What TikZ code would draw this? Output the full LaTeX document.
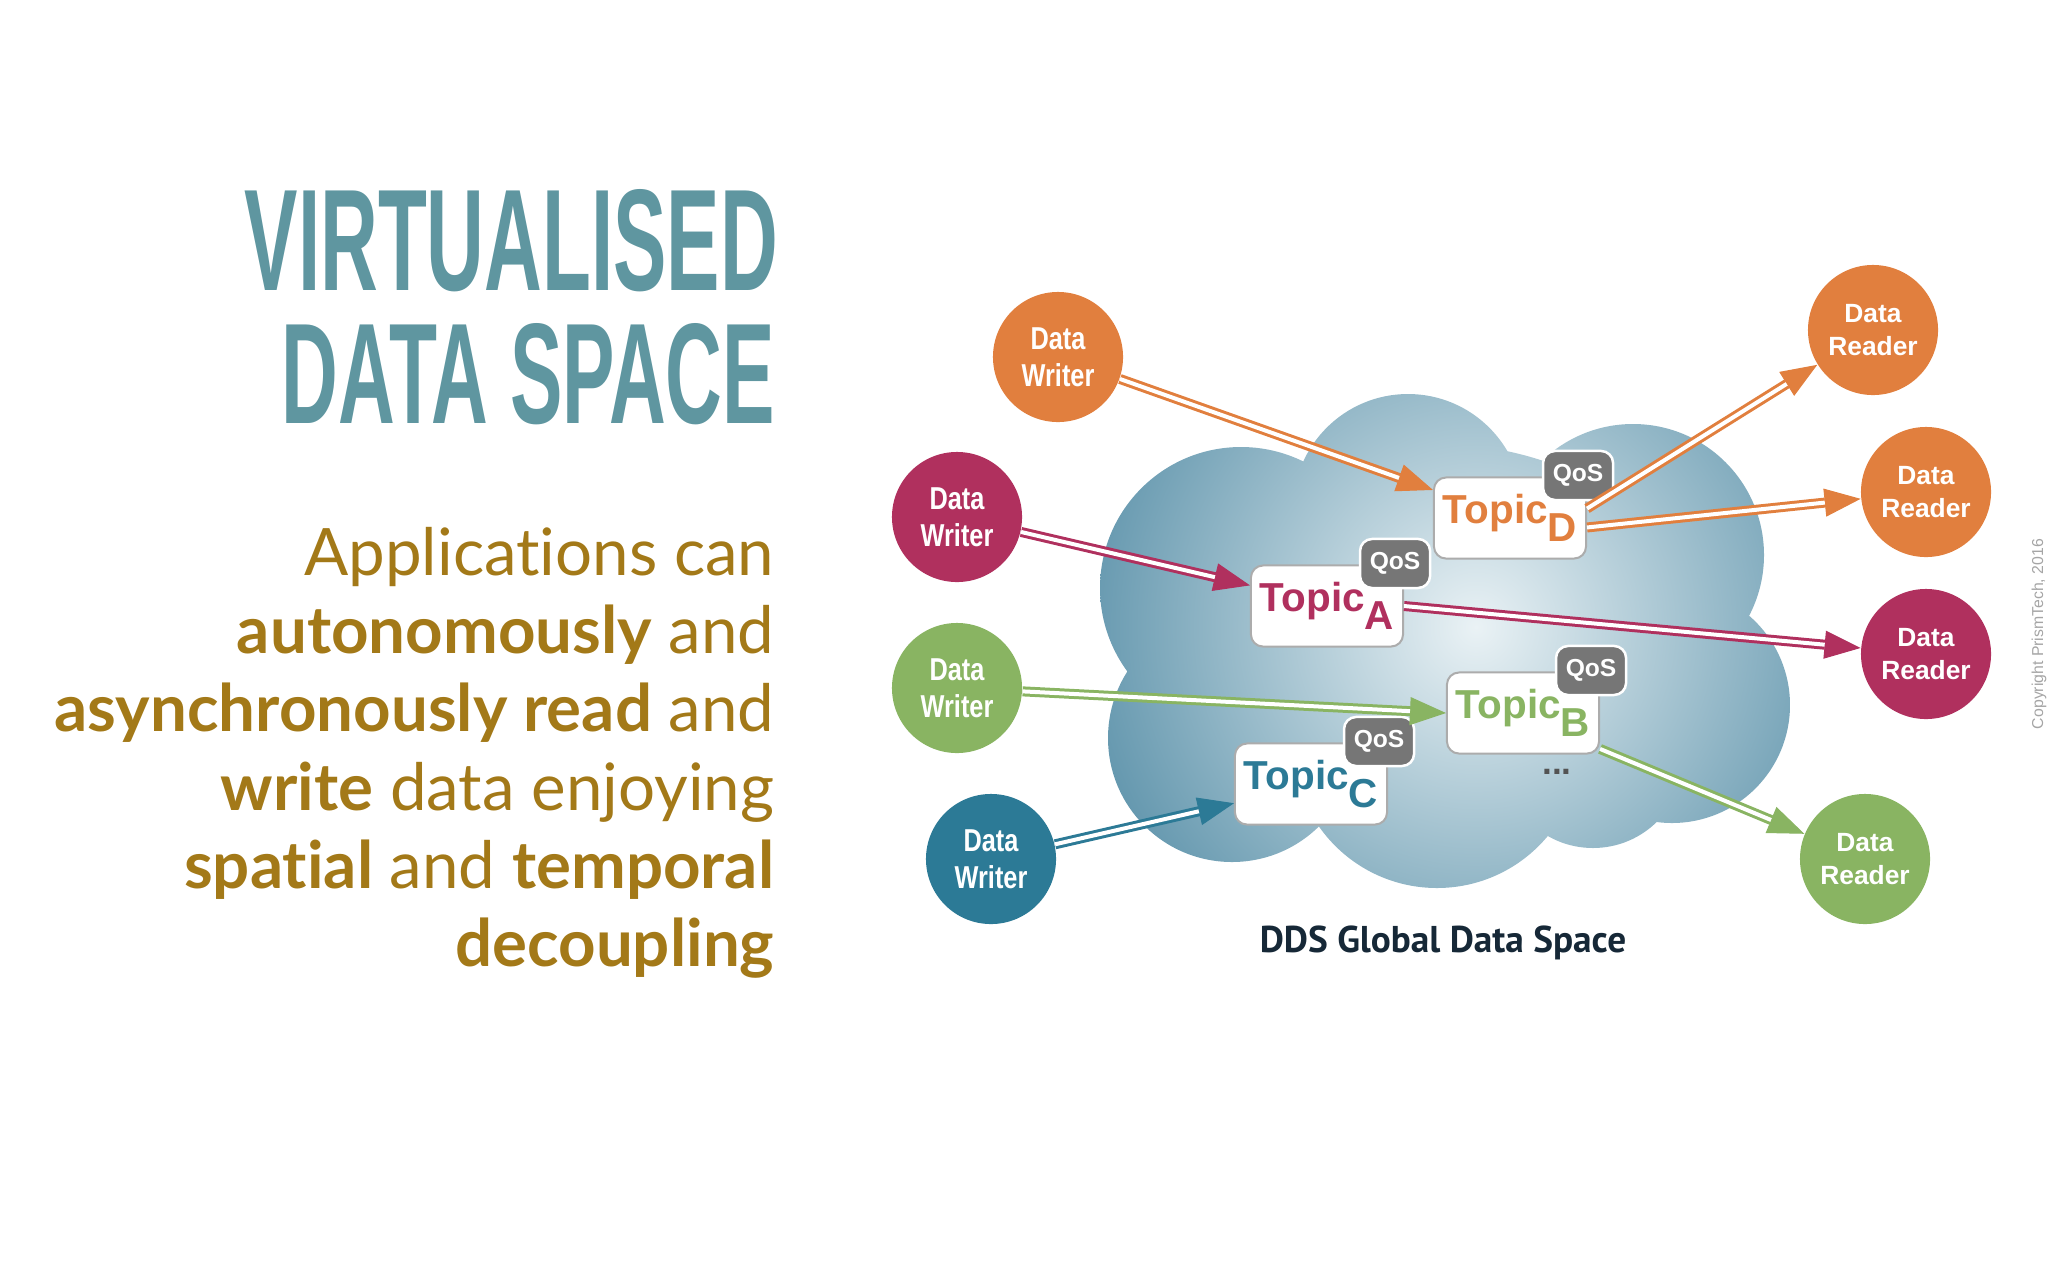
\documentclass[tikz,border=0pt]{standalone}
\usepackage{fontspec}
\setmainfont{Lato}[Ligatures=CommonOff]
\newfontfamily\dsfont{Liberation Sans}
\newfontfamily\narrowfont{Liberation Sans}[FakeStretch=0.8]
\newfontfamily\capfont{PT Sans}
\usetikzlibrary{arrows.meta}

\definecolor{titleteal}{RGB}{95,150,160}
\definecolor{textgold}{RGB}{163,121,24}
\definecolor{dsorange}{RGB}{225,127,62}
\definecolor{dsmagenta}{RGB}{176,48,94}
\definecolor{dsgreen}{RGB}{137,180,98}
\definecolor{dsblue}{RGB}{44,122,150}
\definecolor{qosgray}{RGB}{118,118,118}
\definecolor{boxgray}{RGB}{172,172,172}
\definecolor{cloudteal}{RGB}{92,146,170}
\definecolor{cloudlight}{RGB}{234,242,245}
\definecolor{capnavy}{RGB}{22,40,55}
\definecolor{copygray}{RGB}{165,165,165}

\newcommand{\topicsub}[1]{Topic\raisebox{-0.45em}{#1}}

\tikzset{
  flow/.style={
    draw=#1,
    line width=0.1cm,
    -{Triangle[length=0.36cm, width=0.28cm, line width=0.01cm]},
    postaction={draw=white, line width=0.04cm, shorten >=0.36cm, -},
  },
}

\begin{document}
\begin{tikzpicture} [
    x=0.01cm, y=-0.01cm,
    every node/.style={inner sep=0pt},
  ]

  \tikzstyle{actor} = [
    circle,
    minimum size=1.3cm,
    text=white,
    align=center,
  ]
  \tikzstyle{writer} = [
    actor,
    font=\narrowfont\bfseries\fontsize{9}{10.5}\selectfont,
  ]
  \tikzstyle{reader} = [
    actor,
    font=\dsfont\bfseries\fontsize{7.5}{9.5}\selectfont,
  ]
  \tikzstyle{topic} = [
    rectangle,
    rounded corners=0.12cm,
    draw=boxgray,
    line width=0.02cm,
    fill=white,
    minimum width=1.52cm,
    minimum height=0.81cm,
    font=\dsfont\bfseries\fontsize{11.5}{13}\selectfont,
  ]
  \tikzstyle{qos} = [
    rectangle,
    rounded corners=0.12cm,
    draw=white,
    line width=0.025cm,
    fill=qosgray,
    text=white,
    minimum width=0.7cm,
    minimum height=0.49cm,
    font=\dsfont\bfseries\fontsize{7}{8}\selectfont,
  ]
  \tikzstyle{body} = [
    anchor=base east,
    text=textgold,
    font=\fontsize{18.6}{22}\selectfont,
  ]

  \useasboundingbox (0,0) rectangle (2048,1266);

  % left column
  \node[anchor=south west, text=titleteal] (title1) at (244,293)
    {\resizebox{5.33cm}{1.01cm}{\dsfont\bfseries VIRTUALISED}};
  \node[anchor=south west, text=titleteal] (title2) at (281,426)
    {\resizebox{4.93cm}{1.0cm}{\dsfont\bfseries DATA SPACE}};

  \node[body] (line1) at (775,575) {Applications can};
  \node[body] (line2) at (775,653) {\textbf{autonomously} and};
  \node[body] (line3) at (775,731) {\textbf{asynchronously read} and};
  \node[body] (line4) at (775,810) {\textbf{write} data enjoying};
  \node[body] (line5) at (775,888) {\textbf{spatial} and \textbf{temporal}};
  \node[body] (line6) at (775,966) {\textbf{decoupling}};

  % cloud
  \begin{scope}
    \clip (1241,588) circle (141) (1408,509) circle (115)
          (1633,555) circle (131) (1672,705) circle (118)
          (1437,744) circle (144) (1232,738) circle (124)
          (1593,757) circle (91)
          (1437,640) ellipse [x radius=261, y radius=196];
    \shade[inner color=cloudlight, outer color=cloudteal]
      (1056,207) rectangle (1896,1047);
  \end{scope}

  \node[font=\capfont\bfseries\fontsize{10.6}{12}\selectfont, text=capnavy]
    (caption) at (1443,943) {DDS Global Data Space};

  % writers and readers
  \node[writer, fill=dsorange]  (wD) at (1058,357) {Data\\Writer};
  \node[writer, fill=dsmagenta] (wA) at (957,517)  {Data\\Writer};
  \node[writer, fill=dsgreen]   (wB) at (957,688)  {Data\\Writer};
  \node[writer, fill=dsblue]    (wC) at (991,859)  {Data\\Writer};

  \node[reader, fill=dsorange]  (rD1) at (1873,330) {Data\\Reader};
  \node[reader, fill=dsorange]  (rD2) at (1926,492) {Data\\Reader};
  \node[reader, fill=dsmagenta] (rA)  at (1926,654) {Data\\Reader};
  \node[reader, fill=dsgreen]   (rB)  at (1865,859) {Data\\Reader};

  % topics
  \node[topic, text=dsorange]  (tD) at (1510,518) {\topicsub{D}};
  \node[topic, text=dsmagenta] (tA) at (1327,606) {\topicsub{A}};
  \node[topic, text=dsgreen]   (tB) at (1523,713) {\topicsub{B}};
  \node[topic, text=dsblue]    (tC) at (1311,784) {\topicsub{C}};

  \node[qos] (qD) at ([xshift=-0.09cm, yshift=0.01cm]tD.north east) {QoS};
  \node[qos] (qA) at ([xshift=-0.09cm, yshift=0.01cm]tA.north east) {QoS};
  \node[qos] (qB) at ([xshift=-0.09cm, yshift=0.01cm]tB.north east) {QoS};
  \node[qos] (qC) at ([xshift=-0.09cm, yshift=0.01cm]tC.north east) {QoS};

  \node[font=\dsfont\bfseries\fontsize{10}{10}\selectfont, text=qosgray!70!black]
    (moreB) at (1557,772) {...};

  \draw[flow=dsorange]  (wD) -- (tD.160);
  \draw[flow=dsmagenta] (wA) -- (tA.165);
  \draw[flow=dsgreen]   (wB) -- (tB.west);
  \draw[flow=dsblue]    (wC) -- (tC.-166);
  \draw[flow=dsorange]  (tD.7) -- (rD1);
  \draw[flow=dsorange]  (tD.-7) -- (rD2);
  \draw[flow=dsmagenta] (tA.east) -- (rA);
  \draw[flow=dsgreen]   (tB.-25) -- (rB);

  \node[rotate=90, font=\dsfont\fontsize{4.5}{5}\selectfont, text=copygray]
    (copyright) at (2039,634) {Copyright PrismTech, 2016};

\end{tikzpicture}
\end{document}
